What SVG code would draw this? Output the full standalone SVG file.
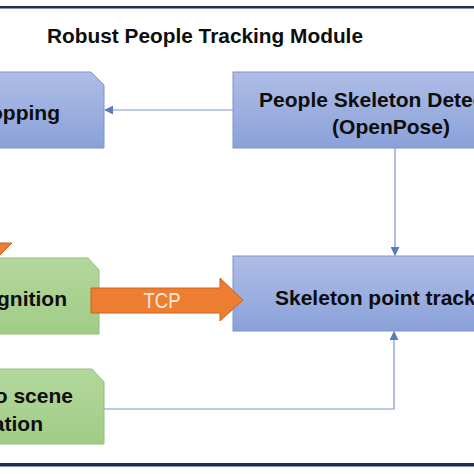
<svg xmlns="http://www.w3.org/2000/svg" width="474" height="474" viewBox="0 0 474 474">
<defs>
<linearGradient id="gBlue" x1="0" y1="0" x2="0" y2="1">
<stop offset="0" stop-color="#aebde6"/>
<stop offset="1" stop-color="#8aa1d9"/>
</linearGradient>
<linearGradient id="gGreen" x1="0" y1="0" x2="0" y2="1">
<stop offset="0" stop-color="#b3d79c"/>
<stop offset="1" stop-color="#a1cc85"/>
</linearGradient>
<marker id="arr" viewBox="0 0 10 10" refX="9" refY="5" markerWidth="9" markerHeight="9" markerUnits="userSpaceOnUse" orient="auto">
<path d="M0,0 L10,5 L0,10 Z" fill="#5b79bd"/>
</marker>
<style>
.blue{fill:url(#gBlue);stroke:#7d93cd;stroke-width:1}
.green{fill:url(#gGreen);stroke:#93bf7b;stroke-width:1}
.lbl{font-family:"Liberation Sans",Arial,sans-serif;font-weight:bold;font-size:21px;fill:#0d0d0d}
.conn{fill:none;stroke:#7d93cd;stroke-width:1.2}
</style>
</defs>
<rect width="474" height="474" fill="#ffffff"/>
<rect x="0" y="6" width="474" height="2.5" fill="#1f3050"/>
<rect x="0" y="463" width="474" height="3.5" fill="#1f3050"/>
<text x="205" y="43" text-anchor="middle" class="lbl" font-size="21" textLength="316" lengthAdjust="spacingAndGlyphs">Robust People Tracking Module</text>
<g id="node-cropping">
<path class="blue" d="M-2,72 L91,72 L104,85 L104,148 L-2,148 Z"/>
<text x="60" y="120" text-anchor="end" class="lbl">opping</text>
</g>
<g id="node-skeleton-detection">
<rect class="blue" x="233" y="72" width="260" height="76"/>
<text x="259" y="107" class="lbl" textLength="264" lengthAdjust="spacingAndGlyphs">People Skeleton Detection</text>
<text x="391" y="134" text-anchor="middle" class="lbl">(OpenPose)</text>
</g>
<g id="node-recognition">
<path class="green" d="M-2,258 L88,258 L99,270 L99,334 L-2,334 Z"/>
<text x="67" y="306" text-anchor="end" class="lbl">gnition</text>
</g>
<g id="node-scene">
<path class="green" d="M-2,369 L92,369 L104,382 L104,444 L-2,444 Z"/>
<text x="73" y="403" text-anchor="end" class="lbl">o scene</text>
<text x="43" y="431" text-anchor="end" class="lbl">ation</text>
</g>
<g id="node-tracking">
<rect class="blue" x="233" y="256" width="260" height="75"/>
<text x="275" y="305" class="lbl">Skeleton point tracking</text>
</g>
<g id="connectors">
<line class="conn" x1="233" y1="110" x2="105" y2="110" marker-end="url(#arr)"/>
<line class="conn" x1="395" y1="148" x2="395" y2="255" marker-end="url(#arr)"/>
<polyline class="conn" points="104,409 394,409 394,332" marker-end="url(#arr)"/>
<polygon points="-2,243 12,243 -2,257" fill="#ed7d31" stroke="#c9651f" stroke-width="1"/>
<polygon points="91,288 220,288 220,278 243,300 220,321 220,313 91,313" fill="#ed7d31" stroke="#c9651f" stroke-width="1"/>
<text x="162" y="308" text-anchor="middle" font-family="Liberation Sans,Arial,sans-serif" font-size="22" fill="#fdeadb" textLength="37" lengthAdjust="spacingAndGlyphs">TCP</text>
</g>
</svg>
